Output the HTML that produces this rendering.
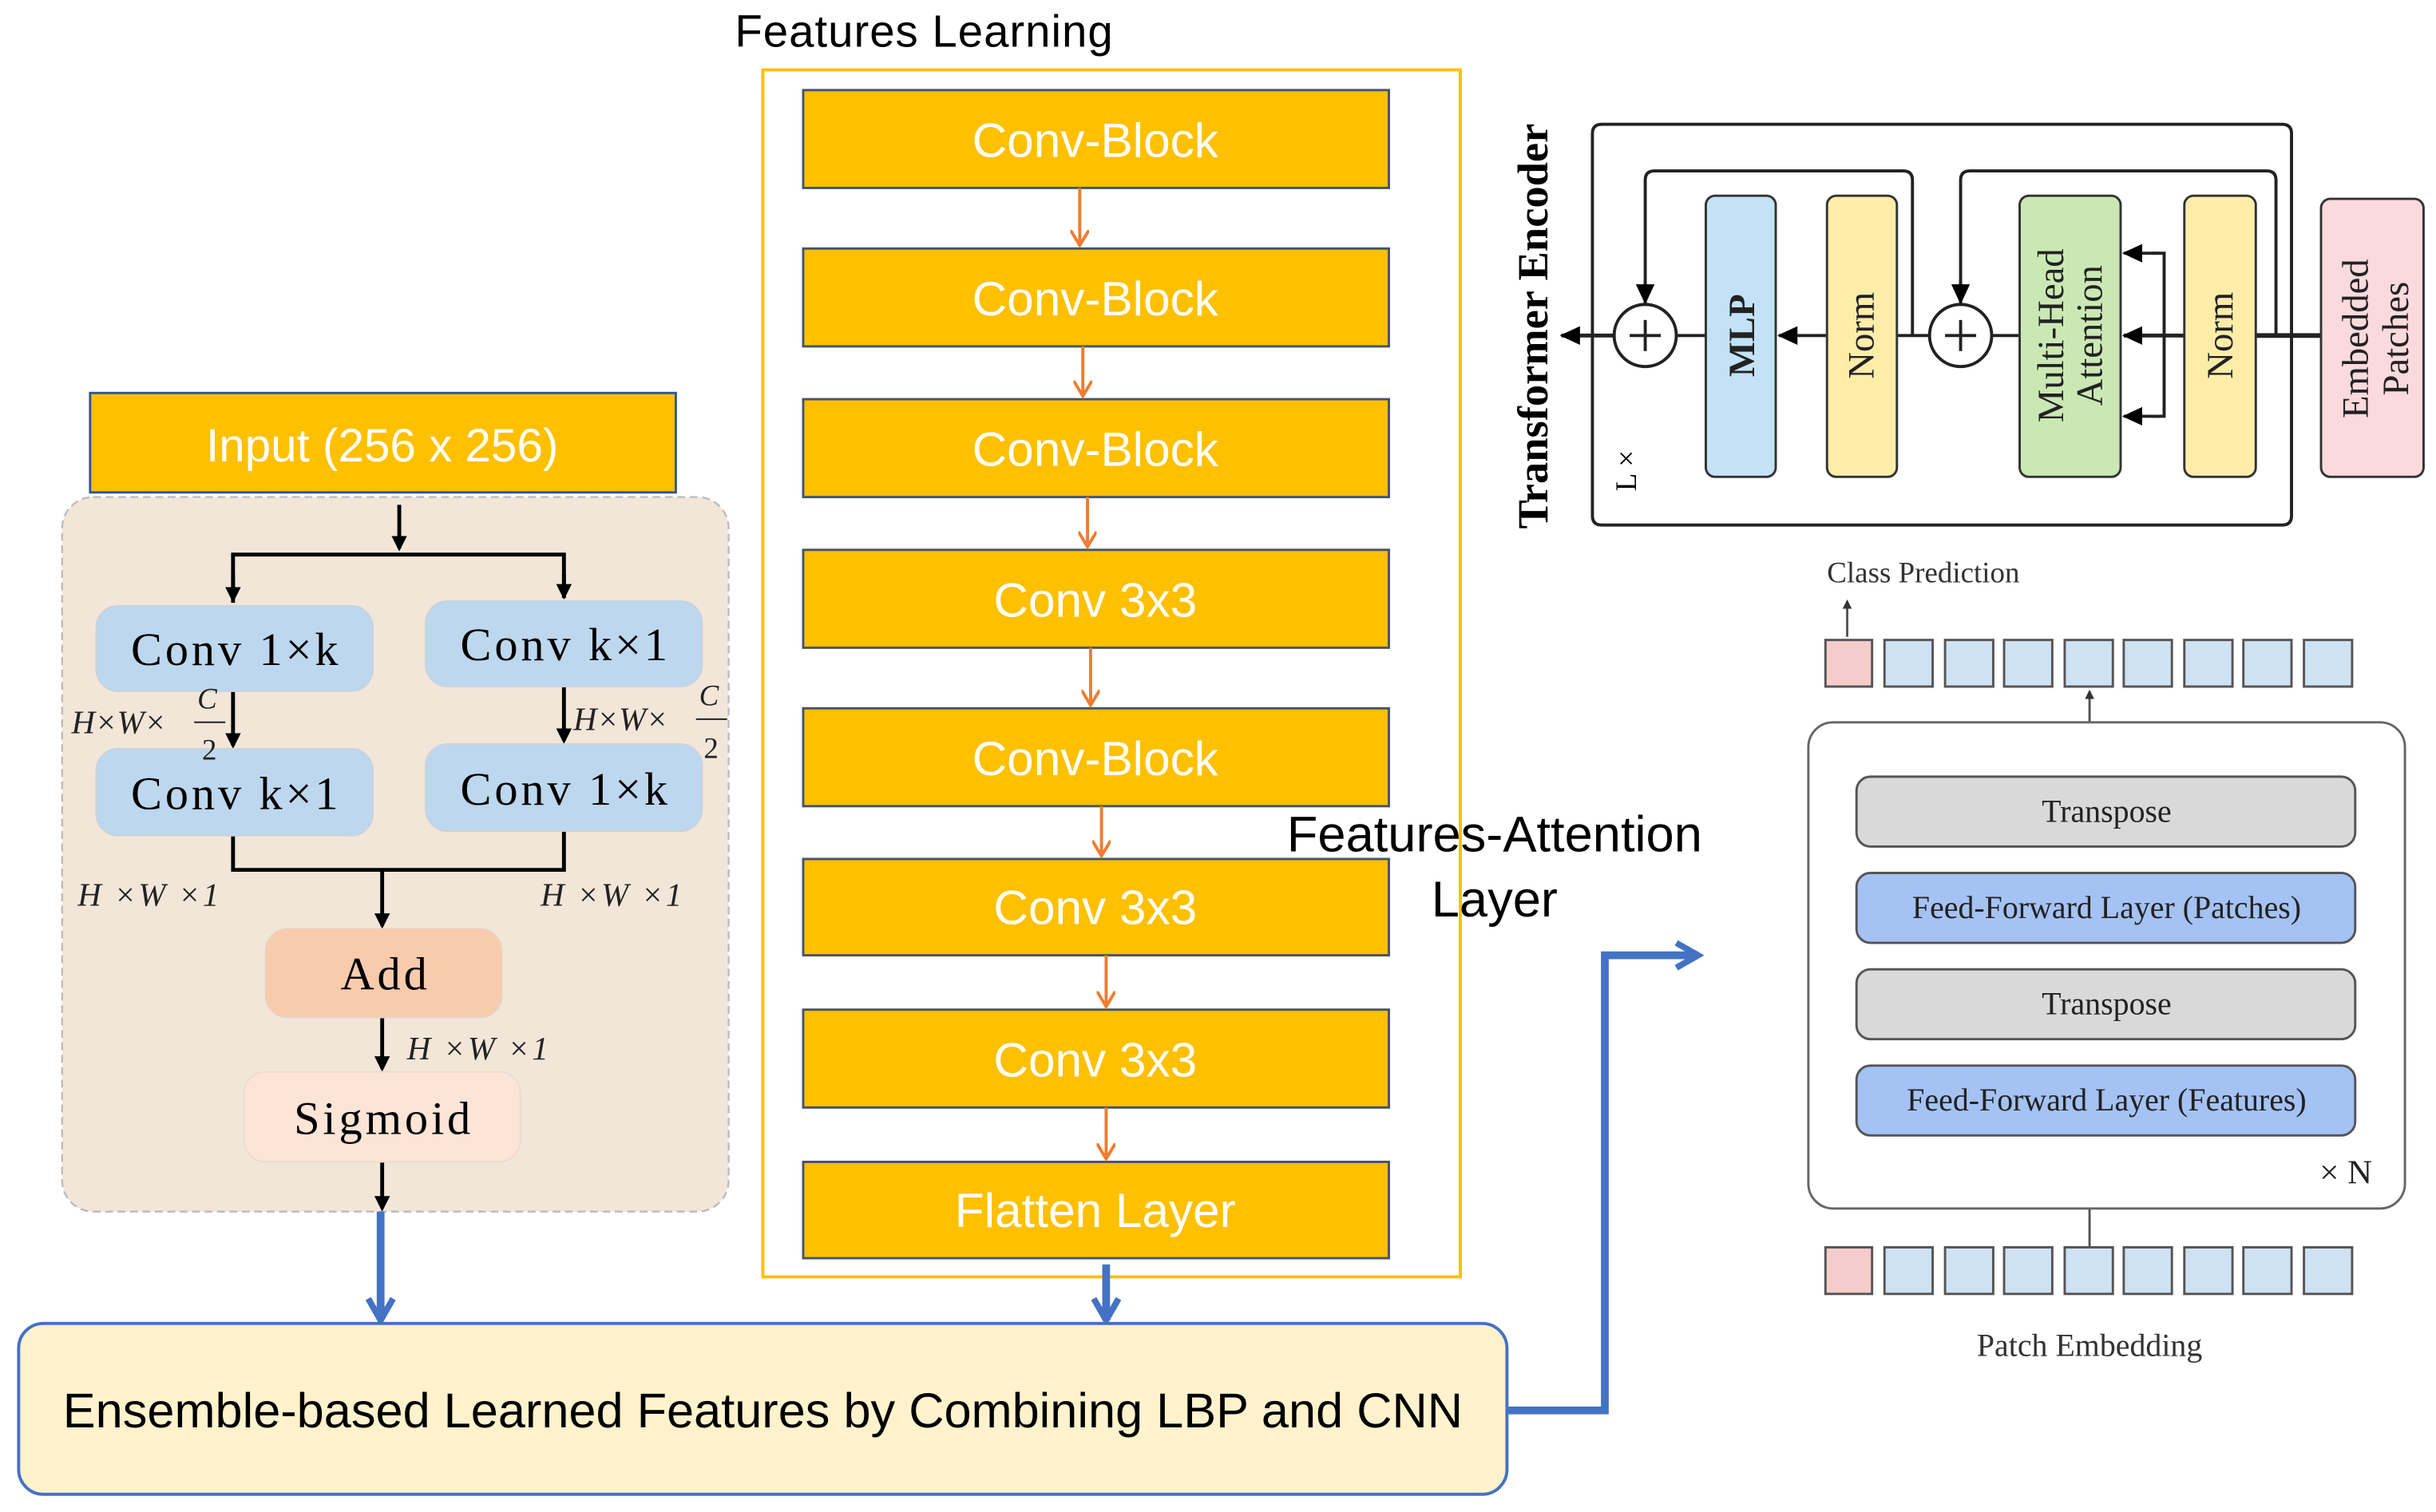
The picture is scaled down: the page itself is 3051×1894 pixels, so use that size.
<!DOCTYPE html>
<html><head><meta charset="utf-8"><style>
html,body{margin:0;padding:0;background:#fff;}
svg{display:block;}
.s{font-family:"Liberation Sans",sans-serif;}
.r{font-family:"Liberation Serif",serif;}
</style></head><body>
<svg width="3051" height="1894" viewBox="0 0 1568 973.4" preserveAspectRatio="none" xmlns="http://www.w3.org/2000/svg">
<defs>
<marker id="ab" markerWidth="10" markerHeight="10" refX="8" refY="5" orient="auto" markerUnits="userSpaceOnUse"><path d="M0,0 L10,5 L0,10 z" fill="#000"/></marker>
<marker id="as" markerWidth="6" markerHeight="6" refX="5" refY="3" orient="auto" markerUnits="userSpaceOnUse"><path d="M0,0 L6,3 L0,6 z" fill="#333"/></marker>
<marker id="ao" markerWidth="12" markerHeight="12" refX="10" refY="6" orient="auto" markerUnits="userSpaceOnUse"><path d="M0,0 L10,6 L0,12" fill="none" stroke="#ED7D31" stroke-width="2"/></marker>
<marker id="abl" markerWidth="20" markerHeight="20" refX="16" refY="10" orient="auto" markerUnits="userSpaceOnUse"><path d="M2,2 L16,10 L2,18" fill="none" stroke="#4472C4" stroke-width="4"/></marker>
<marker id="at" markerWidth="14" markerHeight="14" refX="12" refY="7" orient="auto" markerUnits="userSpaceOnUse"><path d="M0,1 L13,7 L0,13 z" fill="#000"/></marker>
</defs>

<text x="473" y="30" class="s" font-size="29" letter-spacing="0.5" fill="#000">Features Learning</text>
<rect x="491" y="45" width="449" height="777" fill="none" stroke="#FFC000" stroke-width="2"/>
<g fill="#FFC000" stroke="#44546A" stroke-width="1.5">
<rect x="517" y="58" width="377" height="63"/>
<rect x="517" y="160" width="377" height="63"/>
<rect x="517" y="257" width="377" height="63"/>
<rect x="517" y="354" width="377" height="63"/>
<rect x="517" y="456" width="377" height="63"/>
<rect x="517" y="553" width="377" height="62"/>
<rect x="517" y="650" width="377" height="63"/>
<rect x="517" y="748" width="377" height="62"/>
</g>
<g class="s" font-size="31" fill="#fff" text-anchor="middle">
<text x="705" y="101">Conv-Block</text>
<text x="705" y="203">Conv-Block</text>
<text x="705" y="300">Conv-Block</text>
<text x="705" y="397">Conv 3x3</text>
<text x="705" y="499">Conv-Block</text>
<text x="705" y="595">Conv 3x3</text>
<text x="705" y="693">Conv 3x3</text>
<text x="705" y="790">Flatten Layer</text>
</g>
<g stroke="#ED7D31" stroke-width="2" marker-end="url(#ao)">
<line x1="695" y1="121" x2="695" y2="158"/>
<line x1="697" y1="223" x2="697" y2="255"/>
<line x1="700" y1="320" x2="700" y2="352"/>
<line x1="702" y1="417" x2="702" y2="454"/>
<line x1="709" y1="519" x2="709" y2="551"/>
<line x1="712" y1="615" x2="712" y2="648"/>
<line x1="712" y1="713" x2="712" y2="746"/>
</g>

<rect x="58" y="253" width="377" height="64" fill="#FFC000" stroke="#2F5597" stroke-width="1.5"/>
<text x="246" y="297" class="s" font-size="30" fill="#fff" text-anchor="middle">Input (256 x 256)</text>
<rect x="40" y="320" width="429" height="460" rx="20" fill="#F2E6D9" stroke="#BBBBBB" stroke-width="1.2" stroke-dasharray="5,3"/>
<g stroke="#000" stroke-width="2.5" fill="none">
<line x1="257" y1="325" x2="257" y2="353" marker-end="url(#ab)"/>
<polyline points="150,388 150,357 363,357 363,385" />
<line x1="150" y1="370" x2="150" y2="386" marker-end="url(#ab)"/>
<line x1="363" y1="370" x2="363" y2="384" marker-end="url(#ab)"/>
<line x1="150" y1="445" x2="150" y2="480" marker-end="url(#ab)"/>
<line x1="363" y1="442" x2="363" y2="477" marker-end="url(#ab)"/>
<polyline points="150,538 150,560 363,560 363,535"/>
<line x1="246" y1="560" x2="246" y2="596" marker-end="url(#ab)"/>
<line x1="246" y1="655" x2="246" y2="688" marker-end="url(#ab)"/>
<line x1="246" y1="748" x2="246" y2="778" marker-end="url(#ab)"/>
</g>
<g fill="#BDD7EE" stroke="#C9D3DD" stroke-width="1">
<rect x="62" y="390" width="178" height="55" rx="14"/>
<rect x="274" y="387" width="178" height="55" rx="14"/>
<rect x="62" y="482" width="178" height="56" rx="14"/>
<rect x="274" y="479" width="178" height="56" rx="14"/>
</g>
<rect x="171" y="598" width="152" height="57" rx="14" fill="#F8CBAD" stroke="#E8D3C3"/>
<rect x="157" y="690" width="178" height="58" rx="14" fill="#FCE4D6" stroke="#EBDCD0"/>
<g class="r" font-size="30" fill="#000" text-anchor="middle" letter-spacing="2">
<text x="152" y="428">Conv 1×k</text>
<text x="364" y="425">Conv k×1</text>
<text x="152" y="521">Conv k×1</text>
<text x="364" y="518">Conv 1×k</text>
<text x="248" y="637">Add</text>
<text x="247" y="730">Sigmoid</text>
</g>
<g class="r" font-size="21" font-style="italic" fill="#222">
<text x="46" y="472">H×W×</text>
<text x="127" y="456" font-size="19">C</text><line x1="125" y1="465" x2="145" y2="465" stroke="#222"/><text x="130" y="489" font-size="19" font-style="normal">2</text>
<text x="369" y="470">H×W×</text>
<text x="450" y="454" font-size="19">C</text><line x1="448" y1="463" x2="468" y2="463" stroke="#222"/><text x="453" y="488" font-size="19" font-style="normal">2</text>
<text x="50" y="583" letter-spacing="1.5">H ×W ×1</text>
<text x="348" y="583" letter-spacing="1.5">H ×W ×1</text>
<text x="262" y="682" letter-spacing="1.5">H ×W ×1</text>
</g>

<g stroke="#4472C4" stroke-width="5" fill="none">
<line x1="245" y1="780" x2="245" y2="850" marker-end="url(#abl)"/>
<line x1="712" y1="814" x2="712" y2="850" marker-end="url(#abl)"/>
<polyline points="970,908 1033,908 1033,615 1093,615" marker-end="url(#abl)"/>
</g>
<rect x="12" y="852" width="958" height="110" rx="16" fill="#FFF2CC" stroke="#4472C4" stroke-width="2"/>
<text x="491" y="919" class="s" font-size="31.5" fill="#000" text-anchor="middle">Ensemble-based Learned Features by Combining LBP and CNN</text>
<text x="962" y="548" class="s" font-size="32.5" fill="#000" text-anchor="middle">Features-Attention</text>
<text x="962" y="590" class="s" font-size="32.5" fill="#000" text-anchor="middle">Layer</text>

<text transform="translate(996,210) rotate(-90)" class="r" font-size="28" font-weight="bold" text-anchor="middle">Transformer Encoder</text>
<path d="M1098,338 L1031,338 Q1025,338 1025,332 L1025,86 Q1025,80 1031,80 L1469,80 Q1475,80 1475,86 L1475,332 Q1475,338 1469,338 L1098,338" fill="none" stroke="#222" stroke-width="2"/>
<text transform="translate(1053,303) rotate(-90)" class="r" font-size="19" text-anchor="middle">L ×</text>
<g stroke="#222" stroke-width="2" fill="none">
<path d="M1059,196 L1059,116 Q1059,110 1065,110 L1225,110 Q1231,110 1231,116 L1231,216" />
<path d="M1262,196 L1262,116 Q1262,110 1268,110 L1459,110 Q1465,110 1465,116 L1465,216" />
<line x1="1494" y1="216" x2="1452" y2="216" stroke-width="3"/>
<line x1="1406" y1="216" x2="1367" y2="216" marker-end="url(#at)" stroke-width="2.5"/>
<path d="M1385,163 L1393,163 L1393,268 L1385,268"/>
<line x1="1390" y1="163" x2="1367" y2="163" marker-end="url(#at)"/>
<line x1="1390" y1="268" x2="1367" y2="268" marker-end="url(#at)"/>
<line x1="1300" y1="216" x2="1282" y2="216"/>
<line x1="1242" y1="216" x2="1221" y2="216"/>
<line x1="1176" y1="216" x2="1145" y2="216" marker-end="url(#at)"/>
<line x1="1098" y1="216" x2="1079" y2="216"/>
<line x1="1039" y1="216" x2="1005" y2="216" marker-end="url(#at)" stroke-width="2.5"/>
<line x1="1059" y1="180" x2="1059" y2="195" marker-end="url(#at)"/>
<line x1="1262" y1="180" x2="1262" y2="195" marker-end="url(#at)"/>
<circle cx="1059" cy="216" r="20" fill="#fff"/>
<circle cx="1262" cy="216" r="20" fill="#fff"/>
<line x1="1049" y1="216" x2="1069" y2="216"/><line x1="1059" y1="206" x2="1059" y2="226"/>
<line x1="1252" y1="216" x2="1272" y2="216"/><line x1="1262" y1="206" x2="1262" y2="226"/>
</g>
<g stroke="#333" stroke-width="1.5">
<rect x="1098" y="126" width="45" height="181" rx="6" fill="#C3E2F5"/>
<rect x="1176" y="126" width="45" height="181" rx="6" fill="#FDEDA9"/>
<rect x="1300" y="126" width="65" height="181" rx="6" fill="#CBE8B4"/>
<rect x="1406" y="126" width="46" height="181" rx="6" fill="#FDEDA9"/>
<rect x="1494" y="128" width="66" height="179" rx="6" fill="#FADADD"/>
</g>
<g class="r" font-size="24" fill="#222" text-anchor="middle">
<text transform="translate(1129,216) rotate(-90)" font-weight="bold">MLP</text>
<text transform="translate(1206,216) rotate(-90)">Norm</text>
<text transform="translate(1328,216) rotate(-90)">Multi-Head</text>
<text transform="translate(1353,216) rotate(-90)">Attention</text>
<text transform="translate(1437,216) rotate(-90)">Norm</text>
<text transform="translate(1524,218) rotate(-90)">Embedded</text>
<text transform="translate(1550,218) rotate(-90)">Patches</text>
</g>

<text x="1238" y="375" class="r" font-size="19" fill="#333" text-anchor="middle">Class Prediction</text>
<g stroke="#555" stroke-width="1.5">
<line x1="1189" y1="410" x2="1189" y2="387" marker-end="url(#as)"/>
<line x1="1345" y1="465" x2="1345" y2="445" marker-end="url(#as)"/>
<line x1="1345" y1="778" x2="1345" y2="803"/>
</g>
<g stroke="#555" stroke-width="1.5" fill="#CFE2F3">
<rect x="1175" y="412" width="30" height="30" fill="#F4CCCC"/>
<rect x="1213" y="412" width="31" height="30"/><rect x="1252" y="412" width="31" height="30"/><rect x="1290" y="412" width="31" height="30"/><rect x="1329" y="412" width="31" height="30"/><rect x="1367" y="412" width="31" height="30"/><rect x="1406" y="412" width="31" height="30"/><rect x="1444" y="412" width="31" height="30"/><rect x="1483" y="412" width="31" height="30"/>
<rect x="1175" y="803" width="30" height="30" fill="#F4CCCC"/>
<rect x="1213" y="803" width="31" height="30"/><rect x="1252" y="803" width="31" height="30"/><rect x="1290" y="803" width="31" height="30"/><rect x="1329" y="803" width="31" height="30"/><rect x="1367" y="803" width="31" height="30"/><rect x="1406" y="803" width="31" height="30"/><rect x="1444" y="803" width="31" height="30"/><rect x="1483" y="803" width="31" height="30"/>
</g>
<rect x="1164" y="465" width="384" height="313" rx="16" fill="#fff" stroke="#666" stroke-width="1.5"/>
<g stroke="#555" stroke-width="1.5">
<rect x="1195" y="500" width="321" height="45" rx="9" fill="#D9D9D9"/>
<rect x="1195" y="562" width="321" height="45" rx="9" fill="#A4C2F4"/>
<rect x="1195" y="624" width="321" height="45" rx="9" fill="#D9D9D9"/>
<rect x="1195" y="686" width="321" height="45" rx="9" fill="#A4C2F4"/>
</g>
<g class="r" font-size="20.5" fill="#222" text-anchor="middle">
<text x="1356" y="529">Transpose</text>
<text x="1356" y="591">Feed-Forward Layer (Patches)</text>
<text x="1356" y="653">Transpose</text>
<text x="1356" y="715">Feed-Forward Layer (Features)</text>
<text x="1510" y="762" font-size="22">× N</text>
<text x="1345" y="873" fill="#333">Patch Embedding</text>
</g>
</svg>
</body></html>
